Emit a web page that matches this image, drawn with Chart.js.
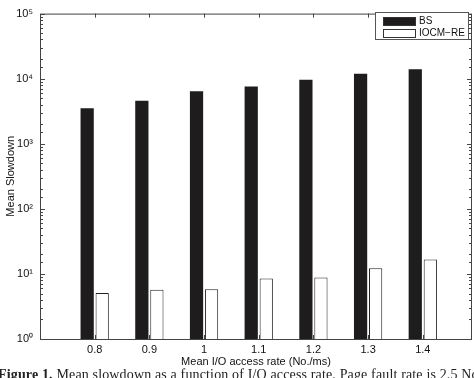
<!DOCTYPE html>
<html>
<head>
<meta charset="utf-8">
<script src="https://cdn.jsdelivr.net/npm/chart.js@4.4.1/dist/chart.umd.min.js"></script>
<style>
  body { margin: 0; background: #fff; overflow: hidden; }
  #wrap { position: relative; width: 474px; height: 378px; overflow: hidden; }
  #caption {
    position: absolute; left: -2px; top: 367px; white-space: nowrap;
    font: 14px "Liberation Serif", serif; color: #222; letter-spacing: 0.15px;
  }
</style>
</head>
<body>
<div id="wrap">
  <canvas id="bars" width="474" height="378"></canvas>
  <div id="caption"><b>Figure 1.</b> Mean slowdown as a function of I/O access rate. Page fault rate is 2.5 No./ms</div>
</div>
<script>
var rates = [0.8, 0.9, 1.0, 1.1, 1.2, 1.3, 1.4];
var bsValues = [3500, 4600, 6400, 7600, 9600, 11900, 14000];
var iocmValues = [5.1, 5.7, 5.8, 8.5, 8.8, 12.2, 16.7];
var yTickPowers = [0, 1, 2, 3, 4, 5];

var sup = { '0': '\u2070', '1': '\u00b9', '2': '\u00b2', '3': '\u00b3', '4': '\u2074', '5': '\u2075' };

function points(values) {
    return rates.map(function (r, i) { return { x: r, y: values[i] }; });
}

// box round the plot with matlab style inward ticks
var boxTicks = {
    id: 'boxTicks',
    afterDraw: function (chart) {
        var ctx = chart.ctx, a = chart.chartArea;
        var xs = chart.scales.x, ys = chart.scales.y;
        ctx.save();
        ctx.strokeStyle = '#444';
        ctx.lineWidth = 1;
        ctx.strokeRect(a.left + 0.5, a.top + 0.5, a.right - a.left - 1, a.bottom - a.top);
        ctx.beginPath();
        ys.ticks.forEach(function (t) {
            var p = Math.round(ys.getPixelForValue(t.value)) + 0.5;
            var major = Math.abs(Math.log10(t.value) - Math.round(Math.log10(t.value))) < 1e-9;
            var len = major ? 5 : 3;
            ctx.moveTo(a.left, p); ctx.lineTo(a.left + len, p);
            ctx.moveTo(a.right, p); ctx.lineTo(a.right - len, p);
        });
        rates.forEach(function (r) {
            var p = Math.round(xs.getPixelForValue(r)) + 0.5;
            ctx.moveTo(p, a.top); ctx.lineTo(p, a.top + 4);
            ctx.moveTo(p, a.bottom); ctx.lineTo(p, a.bottom - 4);
        });
        ctx.stroke();

        // legend
        var lx = 375, ly = 12;
        ctx.fillStyle = '#fff';
        ctx.fillRect(lx, ly, 93, 27);
        ctx.strokeStyle = '#555';
        ctx.strokeRect(lx + 0.5, ly + 0.5, 93, 27);
        chart.data.datasets.forEach(function (ds, i) {
            var y = ly + 5 + i * 12;
            ctx.fillStyle = ds.backgroundColor;
            ctx.fillRect(lx + 8, y, 32, 8);
            ctx.strokeStyle = '#333';
            ctx.strokeRect(lx + 8.5, y + 0.5, 32, 8);
            ctx.fillStyle = '#111';
            ctx.font = '10px "Liberation Sans", Arial, sans-serif';
            ctx.textBaseline = 'middle';
            ctx.fillText(ds.label, lx + 44, y + 4.5);
        });
        ctx.restore();
    }
};

new Chart(document.getElementById('bars'), {
    type: 'bar',
    data: {
        datasets: [{
            label: 'BS',
            data: points(bsValues),
            backgroundColor: '#1e1c1d',
            borderColor: '#888',
            borderWidth: 0
        }, {
            label: 'IOCM\u2212RE',
            data: points(iocmValues),
            backgroundColor: '#ffffff',
            borderColor: '#222',
            borderWidth: 1
        }]
    },
    options: {
        responsive: false,
        animation: false,
        categoryPercentage: 0.55,
        barPercentage: 0.88,
        layout: { padding: { top: 9, right: 2, left: 0, bottom: 0 } },
        plugins: { legend: { display: false }, tooltip: { enabled: false } },
        scales: {
            x: {
                type: 'linear',
                offset: false,
                min: 0.7,
                max: 1.49,
                grid: { display: false, drawTicks: false },
                border: { display: false },
                afterBuildTicks: function (scale) {
                    scale.ticks = rates.map(function (r) { return { value: r }; });
                },
                ticks: {
                    padding: 4,
                    color: '#111',
                    font: { family: '"Liberation Sans", Arial, sans-serif', size: 11 },
                    callback: function (v) { return String(Math.round(v * 10) / 10); }
                },
                title: {
                    display: true,
                    text: 'Mean I/O access rate (No./ms)',
                    color: '#111',
                    padding: { top: 0, bottom: 9 },
                    font: { family: '"Liberation Sans", Arial, sans-serif', size: 11 }
                },
                afterFit: function (scale) { scale.height = 39; }
            },
            y: {
                type: 'logarithmic',
                min: 1,
                max: 100000,
                grid: { display: false, drawTicks: false },
                border: { display: false },
                ticks: {
                    autoSkip: false,
                    padding: 7,
                    color: '#111',
                    font: { family: '"Liberation Sans", Arial, sans-serif', size: 11 },
                    callback: function (v) {
                        var p = Math.log10(v);
                        if (Math.abs(p - Math.round(p)) > 1e-9) return '';
                        p = Math.round(p);
                        return yTickPowers.indexOf(p) >= 0 ? '10' + sup[String(p)] : '';
                    }
                },
                title: {
                    display: true,
                    text: 'Mean Slowdown',
                    color: '#111',
                    padding: { top: 4, bottom: 0 },
                    font: { family: '"Liberation Sans", Arial, sans-serif', size: 11 }
                },
                afterFit: function (scale) { scale.width = 40; }
            }
        }
    },
    plugins: [boxTicks]
});
</script>
</body>
</html>
